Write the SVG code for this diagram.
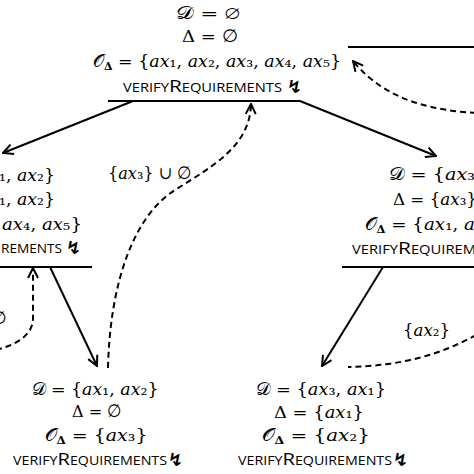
<svg xmlns="http://www.w3.org/2000/svg" width="474" height="474" viewBox="0 0 474 474">
<style>
.m{font-family:"DejaVu Serif","Liberation Serif",serif;font-size:17.5px;fill:#000}
.i{font-style:italic}
.sub{font-size:11px;font-weight:bold}
.v{font-family:"Open Sans","Liberation Sans",sans-serif;font-size:17px;font-variant:small-caps;fill:#000}
.z{font-family:"DejaVu Sans",sans-serif;font-size:18px;font-weight:bold;fill:#000}
.s{stroke:#000;stroke-width:2;fill:none}
.d{stroke:#000;stroke-width:2;fill:none;stroke-dasharray:6 4}
</style>
<defs>
<marker id="a" viewBox="0 0 12 12" refX="11" refY="6" markerWidth="12" markerHeight="12" markerUnits="userSpaceOnUse" orient="auto">
<path d="M1,1 L11,6 L1,11" fill="none" stroke="#000" stroke-width="2"/>
</marker>
</defs>
<rect width="474" height="474" fill="#fff"/>

<g id="connectors">
<line class="s" x1="133" y1="101" x2="3" y2="153" marker-end="url(#a)"/>
<line class="s" x1="300" y1="101" x2="436" y2="156" marker-end="url(#a)"/>
<line class="s" x1="50" y1="267" x2="97" y2="366" marker-end="url(#a)"/>
<line class="s" x1="383" y1="267" x2="322" y2="366" marker-end="url(#a)"/>
<path class="d" d="M108,368 C110,280 135,215 175,190 C215,165 250,145 251,104" marker-end="url(#a)"/>
<path class="d" d="M-4,350 C15,345 33,336 33,318 L33,268" marker-end="url(#a)"/>
<path class="d" d="M476,113 C430,110 385,100 353,61" marker-end="url(#a)"/>
<path class="d" d="M476,335 C440,355 400,366 348,367"/>
<text class="m" x="108" y="179" textLength="84" lengthAdjust="spacingAndGlyphs">{<tspan class="i">ax</tspan>₃} ∪ ∅</text>
<text class="m" x="403" y="336" textLength="47" lengthAdjust="spacingAndGlyphs">{<tspan class="i">ax</tspan>₂}</text>
<text class="m" x="7" y="324" text-anchor="end">∅</text>
</g>

<g id="top">
<text class="m" x="176" y="19" textLength="64" lengthAdjust="spacingAndGlyphs">𝒟 = ∅</text>
<text class="m" x="182" y="42" textLength="56" lengthAdjust="spacingAndGlyphs">Δ = ∅</text>
<text class="m" x="93" y="67" textLength="248" lengthAdjust="spacingAndGlyphs">𝒪<tspan class="sub" dy="3">Δ</tspan><tspan dy="-3"> = {</tspan><tspan class="i">ax</tspan>₁, <tspan class="i">ax</tspan>₂, <tspan class="i">ax</tspan>₃, <tspan class="i">ax</tspan>₄, <tspan class="i">ax</tspan>₅}</text>
<text class="v" x="123" y="92" textLength="159" lengthAdjust="spacingAndGlyphs">verifyRequirements</text>
<text class="z" x="287" y="93">↯</text>
<line class="s" x1="108" y1="101" x2="300" y2="101"/>
<line class="s" x1="348" y1="47" x2="476" y2="47"/>
</g>

<g id="left">
<text class="m" x="55" y="181" text-anchor="end" textLength="56" lengthAdjust="spacingAndGlyphs">₁, <tspan class="i">ax</tspan>₂}</text>
<text class="m" x="55" y="205" text-anchor="end" textLength="56" lengthAdjust="spacingAndGlyphs">₁, <tspan class="i">ax</tspan>₂}</text>
<text class="m" x="82" y="230" text-anchor="end" textLength="80" lengthAdjust="spacingAndGlyphs"> <tspan class="i">ax</tspan>₄, <tspan class="i">ax</tspan>₅}</text>
<text class="v" x="1" y="253" textLength="61" lengthAdjust="spacingAndGlyphs">rements</text>
<text class="z" x="66" y="254">↯</text>
<line class="s" x1="-2" y1="267" x2="92" y2="267"/>
</g>

<g id="right">
<text class="m" x="389" y="180" textLength="86" lengthAdjust="spacingAndGlyphs">𝒟 = {<tspan class="i">ax</tspan>₃</text>
<text class="m" x="393" y="205" textLength="84" lengthAdjust="spacingAndGlyphs">Δ = {<tspan class="i">ax</tspan>₃}</text>
<text class="m" x="365" y="230" textLength="110" lengthAdjust="spacingAndGlyphs">𝒪<tspan class="sub" dy="3">Δ</tspan><tspan dy="-3"> = {</tspan><tspan class="i">ax</tspan>₁, <tspan class="i">a</tspan></text>
<text class="v" x="352" y="254" textLength="124" lengthAdjust="spacingAndGlyphs">verifyRequirem</text>
<line class="s" x1="342" y1="267" x2="476" y2="267"/>
</g>

<g id="bottom-left">
<text class="m" x="95" y="395" text-anchor="middle" textLength="127" lengthAdjust="spacingAndGlyphs">𝒟 = {<tspan class="i">ax</tspan>₁, <tspan class="i">ax</tspan>₂}</text>
<text class="m" x="97" y="417" text-anchor="middle" textLength="50" lengthAdjust="spacingAndGlyphs">Δ = ∅</text>
<text class="m" x="96" y="441" text-anchor="middle" textLength="103" lengthAdjust="spacingAndGlyphs">𝒪<tspan class="sub" dy="3">Δ</tspan><tspan dy="-3"> = {</tspan><tspan class="i">ax</tspan>₃}</text>
<text class="v" x="13" y="465" textLength="154" lengthAdjust="spacingAndGlyphs">verifyRequirements</text>
<text class="z" x="168" y="466">↯</text>
</g>

<g id="bottom-right">
<text class="m" x="321" y="395" text-anchor="middle" textLength="130" lengthAdjust="spacingAndGlyphs">𝒟 = {<tspan class="i">ax</tspan>₃, <tspan class="i">ax</tspan>₁}</text>
<text class="m" x="319" y="418" text-anchor="middle" textLength="90" lengthAdjust="spacingAndGlyphs">Δ = {<tspan class="i">ax</tspan>₁}</text>
<text class="m" x="316" y="441" text-anchor="middle" textLength="108" lengthAdjust="spacingAndGlyphs">𝒪<tspan class="sub" dy="3">Δ</tspan><tspan dy="-3"> = {</tspan><tspan class="i">ax</tspan>₂}</text>
<text class="v" x="238" y="465" textLength="154" lengthAdjust="spacingAndGlyphs">verifyRequirements</text>
<text class="z" x="393" y="466">↯</text>
</g>
</svg>
